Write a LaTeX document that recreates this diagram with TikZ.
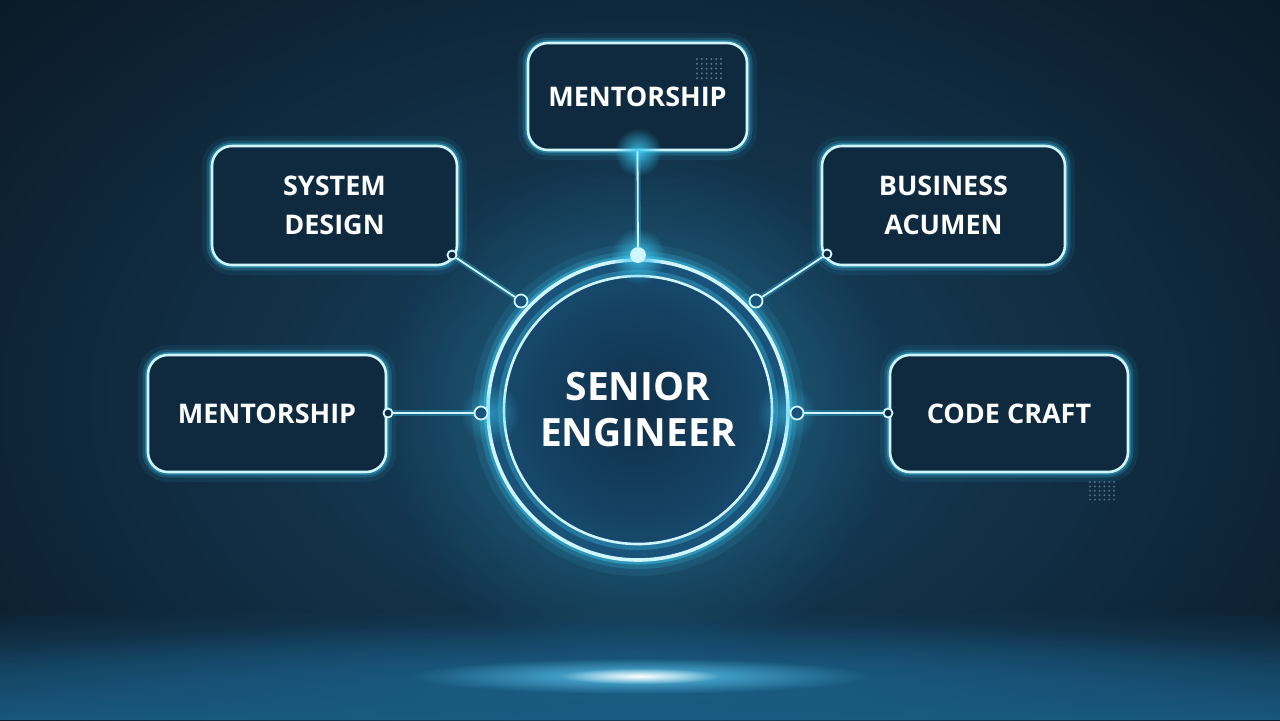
\documentclass[tikz,border=0pt]{standalone}
\usepackage{fontspec}
\setmainfont{Open Sans}
\usetikzlibrary{fadings}
\definecolor{bgdark}{HTML}{0A1622}
\definecolor{bgmid}{HTML}{174362}
\definecolor{edgec}{HTML}{CFF6FF}
\definecolor{glowc}{HTML}{3CC8F0}
\definecolor{boxfill}{HTML}{0F2A3E}
\definecolor{ringfill}{HTML}{1A5379}
\definecolor{ringout}{HTML}{17486B}
\definecolor{ringin}{HTML}{0F2E48}
\definecolor{bandc}{HTML}{1B5F88}
\definecolor{bandhi}{HTML}{5CCBF2}
\definecolor{dotc}{HTML}{7C97AD}
\tikzfading[name=softglow, inner color=transparent!0, outer color=transparent!100]
\tikzset{
  glowbox/.style={rectangle, rounded corners=10pt, inner sep=0pt, fill=boxfill,
    preaction={draw=glowc, line width=10pt, opacity=0.08},
    preaction={draw=glowc, line width=5.5pt, opacity=0.20},
    preaction={draw=glowc, line width=3pt, opacity=0.35},
    draw=edgec, line width=1.3pt, text=white,
    font=\bfseries\fontsize{13.5}{19.5}\selectfont, align=center},
  corering/.style={circle, minimum size=150pt, inner sep=0pt, fill=ringfill,
    preaction={draw=glowc, line width=16pt, opacity=0.10},
    preaction={draw=glowc, line width=9pt, opacity=0.20},
    preaction={draw=glowc, line width=4.5pt, opacity=0.45},
    draw=edgec, line width=1.8pt},
  innerring/.style={circle, minimum size=134pt, inner sep=0pt,
    inner color=ringin, outer color=ringout,
    preaction={draw=glowc, line width=6pt, opacity=0.30},
    draw=edgec, line width=1.3pt, text=white,
    font=\bfseries\fontsize{19.5}{23}\selectfont, align=center},
  link/.style={draw=edgec, line width=0.9pt,
    preaction={draw=glowc, line width=3pt, opacity=0.30}},
  cdot/.style={circle, minimum size=6.5pt, inner sep=0pt, fill=ringfill,
    draw=edgec, line width=0.9pt},
  notch/.style={circle, minimum size=4.5pt, inner sep=0pt, fill=boxfill,
    draw=edgec, line width=0.9pt},
}
\begin{document}
\begin{tikzpicture}[x=0.5pt,y=-0.5pt]
\useasboundingbox (0,0) rectangle (1280,720);
\clip (0,0) rectangle (1280,720);
% background
\shade[inner color=bgmid, outer color=bgdark] (-300,-250) rectangle (1580,1050);
\fill[bandc, path fading=north, opacity=0.9] (0,610) rectangle (1280,720);
\fill[bandc, path fading=softglow, opacity=0.9] (640,682) ellipse (800 and 60);
\fill[bandhi, path fading=softglow, opacity=0.9] (640,676) ellipse (230 and 18);
\fill[white, path fading=softglow] (640,676) ellipse (80 and 8);
% halo around core
\fill[glowc, path fading=softglow, opacity=0.35] (638,410) circle (260);
% boxes
\node[glowbox, minimum width=109.5pt, minimum height=53.5pt] (mtop) at (637.5,96.5) {MENTORSHIP};
\node[glowbox, minimum width=122.5pt, minimum height=59.5pt] (sys) at (334.5,205.5) {SYSTEM\\DESIGN};
\node[glowbox, minimum width=121.5pt, minimum height=59.5pt] (bus) at (943.5,205.5) {BUSINESS\\ACUMEN};
\node[glowbox, minimum width=119pt, minimum height=58.5pt] (mleft) at (267,413.5) {MENTORSHIP};
\node[glowbox, minimum width=119pt, minimum height=58.5pt] (code) at (1009,413.5) {CODE CRAFT};
% dot grids
\foreach \i in {0,...,5}{\foreach \j in {0,...,4}{
  \fill[dotc, opacity=0.7] (697+\i*4.8,59+\j*4.8) circle (1.1);
  \fill[dotc, opacity=0.6] (1090+\i*4.8,482+\j*4.4) circle (1.1);
}}
% core
\node[corering] (core) at (638,410) {};
\node[innerring] (inner) at (638,410) {SENIOR\\ENGINEER};
% glow spots
\fill[glowc, path fading=softglow, opacity=0.9] (638,152) circle (24);
\fill[glowc, path fading=softglow, opacity=0.9] (638,256) circle (28);
\fill[glowc, path fading=softglow, opacity=0.5] (490,413) circle (30);
\fill[glowc, path fading=softglow, opacity=0.5] (786,413) circle (30);
% connector dots
\node[cdot, fill=edgec, minimum size=7pt] (dtop) at (638,255) {};
\node[cdot] (dsys) at (521,301) {};
\node[cdot] (dbus) at (756,301) {};
\node[cdot] (dml) at (481,413) {};
\node[cdot] (dcc) at (797,413) {};
\node[notch] (nsys) at (452,255) {};
\node[notch] (nbus) at (827,254) {};
\node[notch] (nml) at (388,413) {};
\node[notch] (ncc) at (888,413) {};
% connectors
\draw[link] (mtop.south) -- (dtop);
\draw[link] (nsys) -- (dsys);
\draw[link] (nbus) -- (dbus);
\draw[link] (nml) -- (dml);
\draw[link] (ncc) -- (dcc);
\end{tikzpicture}
\end{document}
